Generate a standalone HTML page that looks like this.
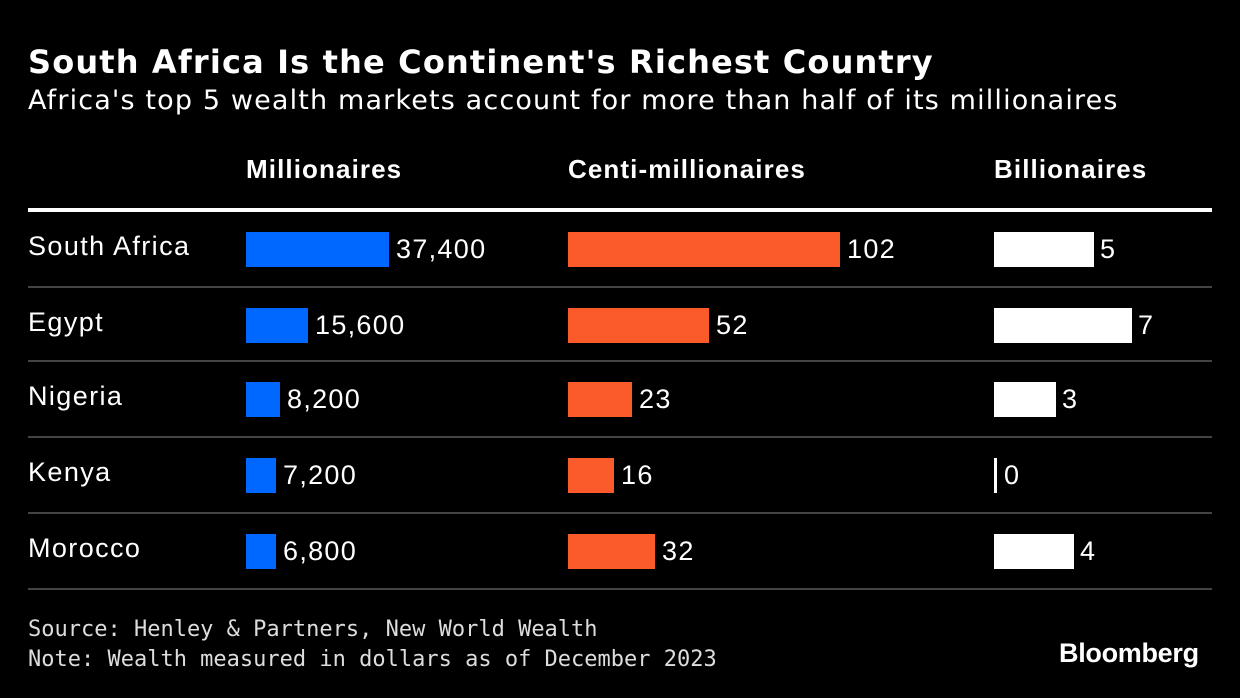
<!DOCTYPE html>
<html><head><meta charset="utf-8"><style>
body{margin:0;background:#000;width:1240px;height:698px;overflow:hidden;position:relative;font-family:"Liberation Sans",sans-serif;color:#fff}
.a{position:absolute;white-space:nowrap}
.t{left:28px;top:43px;font-family:"DejaVu Sans",sans-serif;font-size:32px;font-weight:bold;letter-spacing:1.15px}
.s{left:28px;top:85px;font-family:"DejaVu Sans",sans-serif;font-size:27px;letter-spacing:1.15px}
.h{top:154px;font-size:26px;font-weight:bold;letter-spacing:1.1px}
.l{left:28px;font-size:27px;letter-spacing:1.4px}
.v{font-size:27px;letter-spacing:1.3px}
.b{position:absolute;height:35px}
.sep{position:absolute;left:28px;width:1184px;height:2px;background:#444}
.f{left:28px;font-family:"DejaVu Sans Mono",monospace;font-size:22px;color:#ddd}
</style></head><body>
<div class="a t">South Africa Is the Continent's Richest Country</div>
<div class="a s">Africa's top 5 wealth markets account for more than half of its millionaires</div>
<div class="a h" style="left:246px">Millionaires</div>
<div class="a h" style="left:568px">Centi-millionaires</div>
<div class="a h" style="left:994px">Billionaires</div>
<div style="position:absolute;left:28px;top:208px;width:1184px;height:4px;background:#fff"></div>
<div class="sep" style="top:286px"></div>
<div class="sep" style="top:360px"></div>
<div class="sep" style="top:436px"></div>
<div class="sep" style="top:512px"></div>
<div class="sep" style="top:588px"></div>

<div class="a l" style="top:231px">South Africa</div>
<div class="b" style="left:246px;top:232px;width:143px;background:#0068ff"></div>
<div class="a v" style="left:396px;top:234px">37,400</div>
<div class="b" style="left:568px;top:232px;width:272px;background:#fb5a2a"></div>
<div class="a v" style="left:847px;top:234px">102</div>
<div class="b" style="left:994px;top:232px;width:100px;background:#fff"></div>
<div class="a v" style="left:1100px;top:234px">5</div>

<div class="a l" style="top:307px">Egypt</div>
<div class="b" style="left:246px;top:308px;width:62px;background:#0068ff"></div>
<div class="a v" style="left:315px;top:310px">15,600</div>
<div class="b" style="left:568px;top:308px;width:141px;background:#fb5a2a"></div>
<div class="a v" style="left:716px;top:310px">52</div>
<div class="b" style="left:994px;top:308px;width:138px;background:#fff"></div>
<div class="a v" style="left:1138px;top:310px">7</div>

<div class="a l" style="top:381px">Nigeria</div>
<div class="b" style="left:246px;top:382px;width:34px;background:#0068ff"></div>
<div class="a v" style="left:287px;top:384px">8,200</div>
<div class="b" style="left:568px;top:382px;width:64px;background:#fb5a2a"></div>
<div class="a v" style="left:639px;top:384px">23</div>
<div class="b" style="left:994px;top:382px;width:62px;background:#fff"></div>
<div class="a v" style="left:1062px;top:384px">3</div>

<div class="a l" style="top:457px">Kenya</div>
<div class="b" style="left:246px;top:458px;width:30px;background:#0068ff"></div>
<div class="a v" style="left:283px;top:460px">7,200</div>
<div class="b" style="left:568px;top:458px;width:46px;background:#fb5a2a"></div>
<div class="a v" style="left:621px;top:460px">16</div>
<div class="b" style="left:994px;top:458px;width:3px;background:#fff"></div>
<div class="a v" style="left:1004px;top:460px">0</div>

<div class="a l" style="top:533px">Morocco</div>
<div class="b" style="left:246px;top:534px;width:30px;background:#0068ff"></div>
<div class="a v" style="left:283px;top:536px">6,800</div>
<div class="b" style="left:568px;top:534px;width:87px;background:#fb5a2a"></div>
<div class="a v" style="left:662px;top:536px">32</div>
<div class="b" style="left:994px;top:534px;width:80px;background:#fff"></div>
<div class="a v" style="left:1080px;top:536px">4</div>

<div class="a f" style="top:617px">Source: Henley &amp; Partners, New World Wealth</div>
<div class="a f" style="top:647px">Note: Wealth measured in dollars as of December 2023</div>
<div class="a" style="left:1059px;top:638px;font-size:27px;font-weight:bold;letter-spacing:-0.3px">Bloomberg</div>
</body></html>
